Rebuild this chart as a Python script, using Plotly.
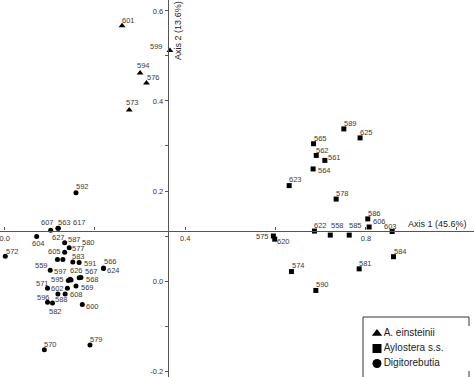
import plotly.graph_objects as go

# ---------------- data ----------------
GROUPS = ["A. einsteinii", "Aylostera s.s.", "Digitorebutia"]

EINST_IDS = ["601", "599", "594", "576", "573"]
EINST_AX1 = [0.260, 0.366, 0.300, 0.314, 0.276]
EINST_AX2 = [0.567, 0.512, 0.462, 0.440, 0.380]

AYLO_IDS = ["589", "625", "565", "562", "561", "564", "623", "578", "586", "606",
            "603", "622", "558", "585", "575", "620", "584", "581", "574", "590"]
AYLO_AX1 = [0.751, 0.787, 0.684, 0.690, 0.709, 0.683, 0.630, 0.734, 0.804, 0.807,
            0.858, 0.686, 0.721, 0.763, 0.595, 0.598, 0.861, 0.785, 0.635, 0.689]
AYLO_AX2 = [0.338, 0.318, 0.305, 0.279, 0.268, 0.249, 0.212, 0.182, 0.138, 0.120,
            0.110, 0.111, 0.102, 0.102, 0.100, 0.093, 0.054, 0.027, 0.021, -0.021]

DIGI_IDS = ["592", "607", "563", "617", "604", "572", "587", "577", "605", "627",
            "580", "583", "591", "566", "624", "559", "595", "626", "597", "567",
            "568", "571", "602", "569", "588", "608", "596", "582", "600", "570", "579"]
DIGI_AX1 = [0.158, 0.102, 0.118, 0.119, 0.071, 0.0015, 0.133, 0.143, 0.133, 0.117,
            0.129, 0.151, 0.165, 0.219, 0.219, 0.101, 0.141, 0.145, 0.147, 0.165,
            0.169, 0.095, 0.139, 0.158, 0.118, 0.134, 0.095, 0.106, 0.172, 0.088, 0.189]
DIGI_AX2 = [0.196, 0.113, 0.117, 0.117, 0.099, 0.055, 0.085, 0.074, 0.064, 0.048,
            0.048, 0.042, 0.041, 0.029, 0.028, 0.024, 0.001, 0.004, 0.002, 0.007,
            0.008, -0.016, -0.016, -0.011, -0.029, -0.029, -0.047, -0.049, -0.052,
            -0.153, -0.142]

X_TICKS = [0.0, 0.2, 0.4, 0.6, 0.8, 1.0]
X_TICK_LABELS = ["0.0", "", "0.4", "", "0.8", ""]
Y_TICKS = [-0.2, -0.1, 0.0, 0.1, 0.2, 0.3, 0.4, 0.5, 0.6]
Y_TICK_LABELS = ["-0.2", "", "0.0", "", "0.2", "", "0.4", "", "0.6"]

AXIS1_TITLE = "Axis 1 (45.6%)"
AXIS2_TITLE = "Axis 2 (13.6%)"

# label placement (pixel offset of label centre from its point; layout only)
LABEL_OFFSET = {
    "601": (6.5, -5.7), "599": (-13, -4), "594": (3, -7.6), "576": (6.7, -5.3), "573": (3.7, -7.3),
    "589": (6.5, -5), "625": (6.5, -5.3), "565": (6.5, -5.7), "562": (6.5, -5.3), "561": (9.3, -2.6),
    "564": (11.8, 1.3), "623": (6.3, -5.7), "578": (6.3, -5.7), "586": (6.3, -5.5), "606": (10.2, -5.9),
    "603": (-1.3, -5.3), "622": (6.2, -6), "558": (7.5, -9.7), "585": (6.2, -10), "575": (-11.3, 0.7),
    "620": (9, 2), "584": (6.7, -5.7), "581": (6.5, -5.7), "574": (6.7, -5.7), "590": (6.3, -6),
    "592": (6.2, -6.3), "607": (-2.7, -7.3), "563": (7, -5.6), "617": (21.3, -5.6), "604": (2.1, 7),
    "572": (6.9, -4.6), "587": (10.0, -3.6), "577": (9.5, 0.9), "605": (-10.2, -0.3), "627": (0.8, -22),
    "580": (25.6, -16.6), "583": (6.1, -6), "591": (11.8, 0.6), "566": (6.5, -6), "624": (10, 2.3),
    "559": (-9, -4.7), "595": (-11.1, -1), "626": (6.2, -8.3), "597": (-10.5, -8.3), "567": (12.2, -6.3),
    "568": (11.8, 1.7), "571": (-5.5, -4.6), "602": (-10.1, 0), "569": (11.2, 1.7), "588": (3.6, 5.3),
    "608": (11.7, 0.3), "596": (-3.9, -4.6), "582": (3.1, 8), "600": (9.7, 2.4), "570": (6.5, -5.7),
    "579": (7, -5),
}

FONT = "Liberation Sans, Arial, sans-serif"
W, H = 474, 377
X_RANGE = [-0.0102, 1.0392]
Y_RANGE = [-0.2133, 0.6244]
X_CROSS = 0.3615   # where the vertical axis crosses axis 1
Y_CROSS = 0.1122   # where the horizontal axis crosses axis 2

groups = [
    (GROUPS[0], EINST_IDS, EINST_AX1, EINST_AX2, "triangle-up", 6),
    (GROUPS[1], AYLO_IDS, AYLO_AX1, AYLO_AX2, "square", 5),
    (GROUPS[2], DIGI_IDS, DIGI_AX1, DIGI_AX2, "circle", 5),
]
LEGEND_SYMBOLS = [g[4] for g in groups]

fig = go.Figure()
annotations = []
for name, ids, xs, ys, sym, size in groups:
    assert len(ids) == len(xs) == len(ys)
    fig.add_trace(go.Scatter(
        x=xs, y=ys, mode="markers", name=name, showlegend=False,
        marker=dict(symbol=sym, size=size, color="black", line=dict(width=0)),
        hoverinfo="skip"))
    for i, x, y in zip(ids, xs, ys):
        dx, dy = LABEL_OFFSET[i]
        annotations.append(dict(
            x=x, y=y, xref="x", yref="y", text=i, showarrow=False,
            xanchor="center", yanchor="middle", xshift=dx, yshift=-dy,
            font=dict(family=FONT, size=7.5, color="#3a3a3a")))

# legend (key box with the three group symbols)
fig.add_trace(go.Scatter(
    x=[0] * len(GROUPS), y=GROUPS, mode="markers+text", text=GROUPS,
    textposition="middle right", xaxis="x2", yaxis="y2", showlegend=False,
    hoverinfo="skip", cliponaxis=False,
    marker=dict(symbol=LEGEND_SYMBOLS, size=9, color="black", line=dict(width=0)),
    textfont=dict(family=FONT, size=10, color="#222")))

xr = X_RANGE[1] - X_RANGE[0]
yr = Y_RANGE[1] - Y_RANGE[0]
xpos = (X_CROSS - X_RANGE[0]) / xr
ypos = (Y_CROSS - Y_RANGE[0]) / yr

annotations.append(dict(
    x=469 / W, y=1 - 224.5 / H, xref="paper", yref="paper", text=AXIS1_TITLE,
    showarrow=False, xanchor="right", yanchor="middle",
    font=dict(family=FONT, size=9, color="#222")))
annotations.append(dict(
    x=xpos, y=1 - 30 / H, xref="paper", yref="paper", text=AXIS2_TITLE,
    showarrow=False, xanchor="center", yanchor="middle", textangle=-90, xshift=10,
    font=dict(family=FONT, size=9, color="#222")))

axis_common = dict(showgrid=False, zeroline=False, showline=True, linecolor="#555",
                   linewidth=1.3, tickcolor="#555", ticklen=3, tickwidth=1,
                   ticklabeloverflow="allow",
                   tickfont=dict(family=FONT, size=7.5, color="#333"), anchor="free")

fig.update_layout(
    width=W, height=H,
    margin=dict(l=0, r=0, t=0, b=0),
    paper_bgcolor="white", plot_bgcolor="white",
    xaxis=dict(range=X_RANGE, tickvals=X_TICKS, ticktext=X_TICK_LABELS,
               ticks="inside", position=ypos, **axis_common),
    yaxis=dict(range=Y_RANGE, tickvals=Y_TICKS, ticktext=Y_TICK_LABELS,
               ticks="outside", position=xpos, **axis_common),
    xaxis2=dict(domain=[377 / W, 1.0], range=[0, 97], visible=False, anchor="y2"),
    yaxis2=dict(domain=[1 - 371 / H, 1 - 326 / H], range=[2.5, -0.5], visible=False,
                anchor="x2", type="category"),
    shapes=[dict(type="rect", xref="paper", yref="paper",
                 x0=363 / W, x1=469 / W, y0=-0.05, y1=1 - 317 / H,
                 line=dict(color="#333", width=1), fillcolor="rgba(0,0,0,0)", layer="below")],
    annotations=annotations,
    showlegend=False,
)

fig.write_html("out.html", config={"displayModeBar": False},
               post_script="document.body.style.margin='0';")
